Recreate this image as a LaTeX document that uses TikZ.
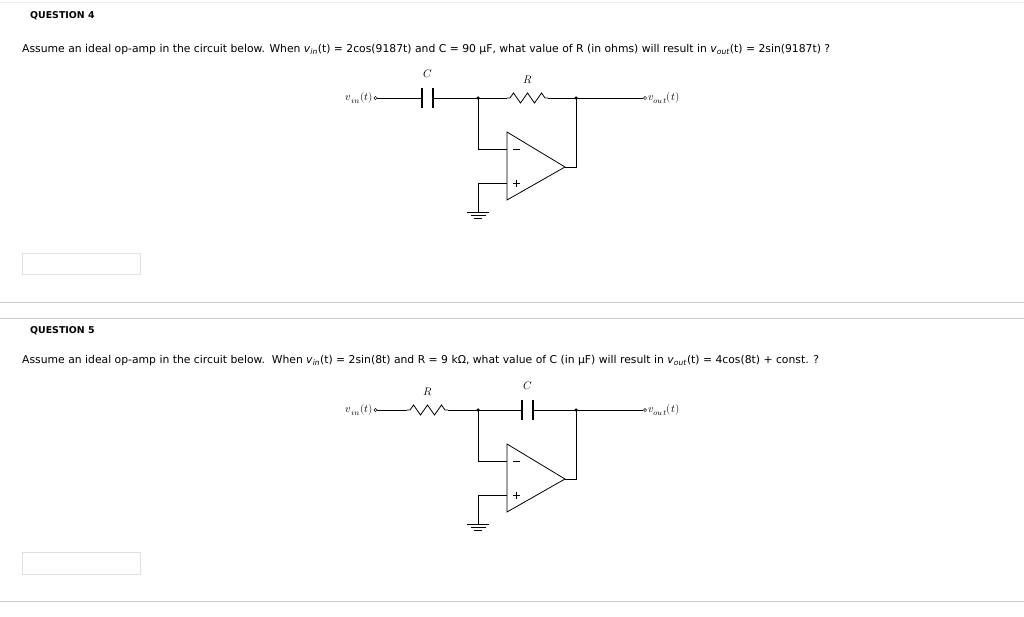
\documentclass[tikz,border=0pt]{standalone}
\usepackage{fontspec}
\setmainfont{DejaVu Sans}
\usepackage{unicode-math}
\setmathfont{Latin Modern Math}
\begin{document}
\begin{tikzpicture}[x=1pt,y=-1pt,
  txt/.style={anchor=base west,inner sep=0,font=\fontsize{10.8}{12}\selectfont},
  head/.style={anchor=base west,inner sep=0,font=\fontsize{9.4}{11}\selectfont\bfseries},
  lbl/.style={inner sep=0,font=\fontsize{11}{12}\selectfont},
  wire/.style={line width=0.8pt},
  term/.style={circle,draw,line width=0.5pt,inner sep=0,minimum size=3.2pt,fill=white},
  dot/.style={circle,fill,inner sep=0,minimum size=3.5pt},
  box/.style={draw=black!12,line width=0.6pt},
  sep/.style={draw=black!20,line width=0.6pt}]
\useasboundingbox (0,0) rectangle (1024,616);
\newcommand{\vv}[1]{\textit{v}\textsubscript{\textit{#1}}}
\draw[draw=black!8] (0,2) -- (1024,2);
\node[head] (h4) at (30,18) {QUESTION 4};
\node[txt] (q4) at (22,52) {Assume an ideal op-amp in the circuit below. When \vv{in}(t) = 2cos(9187t) and C = 90 μF, what value of R (in ohms) will result in \vv{out}(t) = 2sin(9187t) ?};
\draw[box] (22,253) rectangle (140,274);
\draw[sep] (0,302) -- (1024,302);
\draw[sep] (0,318) -- (1024,318);
\node[head] (h5) at (30,333) {QUESTION 5};
\node[txt] (q5) at (22,363) {Assume an ideal op-amp in the circuit below.\ \ When \vv{in}(t) = 2sin(8t) and R = 9 kΩ, what value of C (in μF) will result in \vv{out}(t) = 4cos(8t) + const. ?};
\draw[box] (22,552) rectangle (140,574);
\draw[sep] (0,601) -- (1024,601);
\newcommand{\myres}[2]{%
  \draw[wire] (#1,#2) -- (#1+3,#2) -- (#1+6.5,#2-5) -- (#1+13.5,#2+5) -- (#1+20.5,#2-5) -- (#1+27.5,#2+5) -- (#1+34.5,#2-5) -- (#1+38,#2) -- (#1+41,#2);}
\newcommand{\myopamp}[1]{%
  \draw[wire] (507,#1+132) -- (565,#1+167) -- (507,#1+200) -- cycle;
  \draw[wire] (478,#1+98) -- (478,#1+149) -- (507,#1+149);
  \draw[wire] (507,#1+183) -- (478,#1+183) -- (478,#1+212);
  \draw[wire] (565,#1+167) -- (576,#1+167) -- (576,#1+98);
  \draw[line width=0.5pt] (513,#1+149) -- (520,#1+149);
  \draw[line width=0.5pt] (513,#1+183) -- (520,#1+183) (516.5,#1+179.5) -- (516.5,#1+186.5);
  \draw[wire] (467,#1+212) -- (489,#1+212);
  \draw[wire] (470.5,#1+215) -- (485.5,#1+215);
  \draw[wire] (474,#1+218) -- (482,#1+218);
  \node[dot] at (478,#1+98) {};
  \node[dot] at (576,#1+98) {};
  \draw[wire] (576,#1+98) -- (643,#1+98);
  \node[term] at (645,#1+98) {};
  \node[lbl,anchor=west] at (648,#1+98) {$v_{out}(t)$};
  \node[lbl,anchor=east] at (373,#1+98) {$v_{in}(t)$};
  \node[term] at (375.5,#1+98) {};}
% circuit 1
\draw[wire] (377,98) -- (422,98);
\draw[line width=1.3pt] (422,88) -- (422,108) (433,88) -- (433,108);
\draw[wire] (433,98) -- (507,98);
\myres{507}{98}
\draw[wire] (548,98) -- (576,98);
\node[lbl] (C1) at (427.5,74) {$C$};
\node[lbl] (R1) at (527.5,80) {$R$};
\myopamp{0}
% circuit 2
\draw[wire] (377,410) -- (407,410);
\myres{407}{410}
\draw[wire] (448,410) -- (522,410);
\draw[line width=1.3pt] (522,400) -- (522,420) (533,400) -- (533,420);
\draw[wire] (533,410) -- (576,410);
\node[lbl] (R2) at (427.5,392) {$R$};
\node[lbl] (C2) at (527.5,386) {$C$};
\myopamp{312}
\end{tikzpicture}
\end{document}
